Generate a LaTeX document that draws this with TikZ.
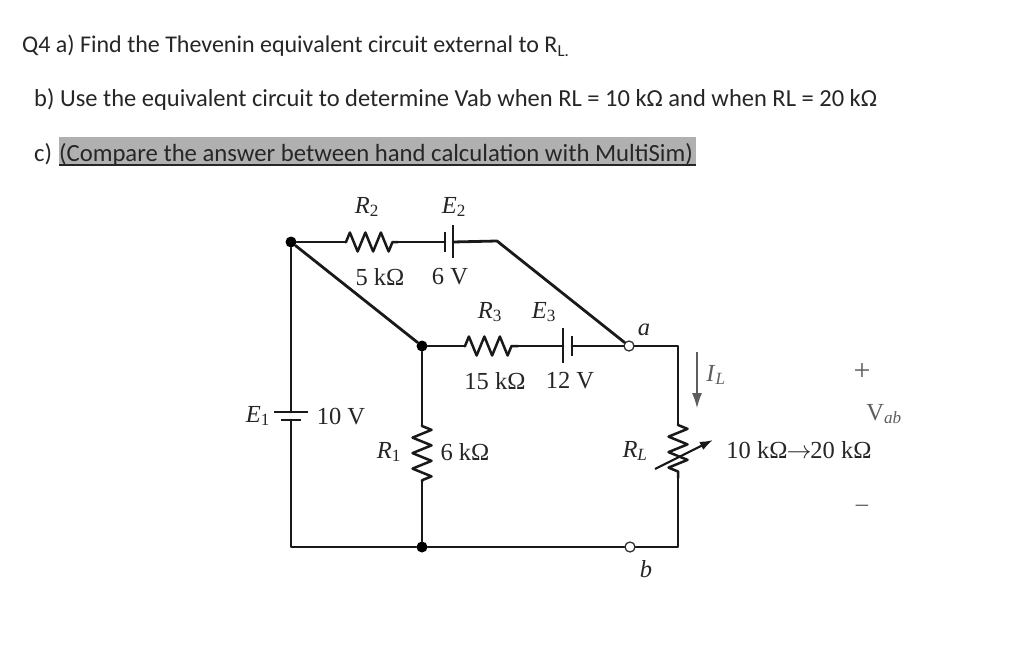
\documentclass[tikz,border=0pt]{standalone}
\usepackage{fontspec}
\usepackage{xcolor}
\setmainfont{Liberation Serif}
\newfontfamily\notefont{Carlito}
\usetikzlibrary{decorations.pathmorphing}
\usetikzlibrary{arrows.meta}
\definecolor{inkgray}{HTML}{262626}
\definecolor{softgray}{HTML}{5E5E5E}
\definecolor{markgray}{HTML}{B0B0B0}
\newcommand{\ital}[2]{\textit{#1}\textsubscript{#2}}
\tikzset{
  wire/.style={line width=2.8pt, line cap=round, line join=round, color=black!90},
  plate/.style={line width=2.8pt, color=black!90},
  zig/.style={wire, line width=2.5pt, decorate, decoration={zigzag, segment length=15.5pt, amplitude=9.5pt, pre=lineto, pre length=1pt, post=lineto, post length=1pt}},
  dot/.style={circle, fill=black, inner sep=0pt, minimum size=11pt},
  term/.style={circle, draw=black!80, fill=white, line width=1.3pt, inner sep=0pt, minimum size=10pt},
  lbl/.style={inner sep=0pt, text=inkgray, font=\fontsize{24.5}{26}\selectfont},
  note/.style={inner sep=0pt, anchor=base west, text=inkgray, font=\notefont\fontsize{24}{26}\selectfont},
}
\begin{document}
\begin{tikzpicture}[x=1pt, y=-1pt]
  \useasboundingbox (0,0) rectangle (1024,647);
  \fill[white] (0,0) rectangle (1024,647);

  % question text
  \fill[markgray] (59,137) rectangle (696,166);
  \draw[line width=2pt, color=inkgray] (59,165) -- (696,165);
  \node[note] (qa) at (22,53) {Q4 a) Find the Thevenin equivalent circuit external to R\textsubscript{L.}};
  \node[note, font=\notefont\fontsize{24.5}{26}\selectfont] (qb) at (34,107) {b) Use the equivalent circuit to determine Vab when RL = 10 kΩ and when RL = 20 kΩ};
  \node[note, font=\notefont\fontsize{24.7}{26}\selectfont] (qc) at (34,161) {c)\hspace{7pt}(Compare the answer between hand calculation with MultiSim)};

  % junctions and corners
  \node[dot] (top) at (291,242) {};
  \node[dot] (mid) at (422,346) {};
  \node[dot] (bot) at (422,547) {};
  \node[term] (a) at (629,346) {};
  \node[term] (b) at (630,547) {};
  \coordinate (bend) at (497,241);
  \coordinate (ra) at (678,346);
  \coordinate (rb) at (678,547);
  \coordinate (lb) at (291,547);

  % component ends
  \coordinate (R2l) at (345,242);
  \coordinate (R2r) at (398,242);
  \coordinate (E2l) at (445,242);
  \coordinate (E2r) at (453,242);
  \coordinate (R3l) at (464,346);
  \coordinate (R3r) at (518,346);
  \coordinate (E3l) at (563,346);
  \coordinate (E3r) at (572,346);
  \coordinate (R1t) at (422,425);
  \coordinate (R1b) at (422,482);
  \coordinate (RLt) at (678,424);
  \coordinate (RLb) at (678,478);
  \coordinate (E1t) at (291,412);
  \coordinate (E1b) at (291,420);

  % wires
  \draw[wire] (top) -- (R2l);
  \draw[wire] (R2r) -- (E2l);
  \draw[wire] (E2r) -- (bend) -- (a);
  \draw[wire] (top) -- (mid);
  \draw[wire] (mid) -- (R3l);
  \draw[wire] (R3r) -- (E3l);
  \draw[wire] (E3r) -- (a);
  \draw[wire] (a) -- (ra) -- (RLt);
  \draw[wire] (RLb) -- (rb) -- (b);
  \draw[wire] (b) -- (bot);
  \draw[wire] (bot) -- (lb) -- (E1b);
  \draw[wire] (E1t) -- (top);
  \draw[wire] (mid) -- (R1t);
  \draw[wire] (R1b) -- (bot);

  % resistors
  \draw[zig] (R2l) -- (R2r);
  \draw[zig] (R3l) -- (R3r);
  \draw[zig] (R1t) -- (R1b);
  \draw[zig] (RLt) -- (RLb);

  % battery plates
  \draw[plate] (445,232) -- (E2l) -- (445,252);
  \draw[plate] (453,225) -- (E2r) -- (453,258);
  \draw[plate] (563,328) -- (E3l) -- (563,363);
  \draw[plate] (572,336) -- (E3r) -- (572,356);
  \draw[plate] (274,412) -- (E1t) -- (308,412);
  \draw[plate] (281,420) -- (E1b) -- (301,420);

  % arrows
  \coordinate (varl) at (655,469);
  \coordinate (varr) at (713,440);
  \coordinate (ilt) at (697,352);
  \coordinate (ilb) at (697,408);
  \draw[-{Latex[length=13pt,width=9pt]}, line width=2.2pt, color=black!90] (varl) -- (varr);
  \draw[-{Latex[length=15pt,width=10pt]}, line width=1.2pt, color=softgray] (ilt) -- (ilb);

  % labels
  \node[lbl] (R2n) at (367,207) {\ital{R}{2}};
  \node[lbl] (E2n) at (454,207) {\ital{E}{2}};
  \node[lbl] (R2v) at (380,277) {5 kΩ};
  \node[lbl] (E2v) at (450,277) {6 V};
  \node[lbl] (R3n) at (490,312) {\ital{R}{3}};
  \node[lbl] (E3n) at (544,312) {\ital{E}{3}};
  \node[lbl] (R3v) at (495,381) {15 kΩ};
  \node[lbl] (E3v) at (570,381) {12 V};
  \node[lbl] (an) at (644,330) {\textit{a}};
  \node[lbl] (bn) at (646,569) {\textit{b}};
  \node[lbl] (E1n) at (258,416) {\ital{E}{1}};
  \node[lbl] (E1v) at (341,417) {10 V};
  \node[lbl] (R1n) at (389,452) {\ital{R}{1}};
  \node[lbl] (R1v) at (465,452) {6 kΩ};
  \node[lbl] (RLn) at (635,451) {\textit{R}\textsubscript{\textit{L}}};
  \node[lbl] (RLv) at (799,450) {10 kΩ\kern-1pt$\rightarrow$\kern-1pt20 kΩ};
  \node[lbl, text=softgray] (iln) at (716,375) {\textit{I}\textsubscript{\textit{L}}};
  \node[lbl, text=softgray, font=\fontsize{30}{30}\selectfont] (plus) at (862,372) {+};
  \node[lbl, text=softgray] (vab) at (884,414) {V\textsubscript{\textit{ab}}};
  \node[lbl, text=softgray] (minus) at (862,508) {--};
\end{tikzpicture}
\end{document}
